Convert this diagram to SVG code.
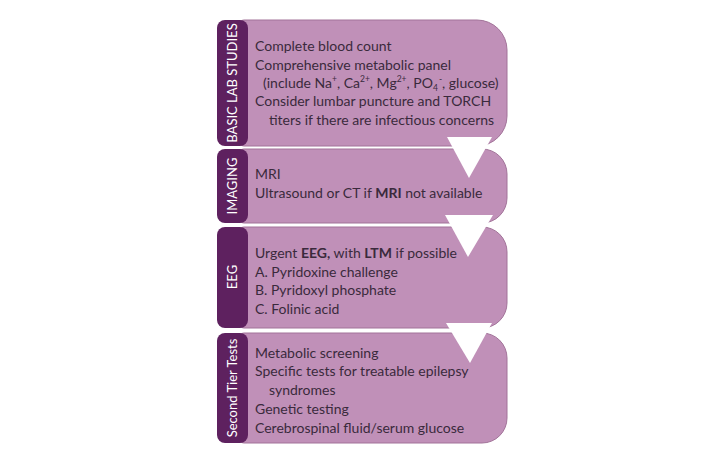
<svg xmlns="http://www.w3.org/2000/svg" width="724" height="466" viewBox="0 0 724 466">
<style>
.body{fill:#c090b8;stroke:#a27399;stroke-width:1}
.tab{fill:#5e215f}
.lbl{fill:#ffffff;font-family:Lato,"Liberation Sans",sans-serif;font-size:13px;text-anchor:middle}
.t{fill:#3a2a3c;font-family:Lato,"Liberation Sans",sans-serif;font-size:14px}
.b{font-weight:bold}
.sup{font-size:8.5px}
.arr{fill:#ffffff}
</style>
<rect width="724" height="466" fill="#ffffff"/>
<g id="basic-lab">
<path class="body" d="M244,20 H477 A30,30 0 0 1 507,50 V116 A30,30 0 0 1 477,146 H244 A6,6 0 0 1 238,140 V26 A6,6 0 0 1 244,20 Z"/>
<rect class="tab" x="217" y="20" width="31" height="126" rx="8"/>
<text class="lbl" transform="translate(237,83) rotate(-90)">BASIC LAB STUDIES</text>
<text class="t" x="255" y="51">Complete blood count</text>
<text class="t" x="255" y="70">Comprehensive metabolic panel</text>
<text class="t" x="263" y="88">(include Na<tspan class="sup" dy="-6">+</tspan><tspan dy="6">, Ca</tspan><tspan class="sup" dy="-6">2+</tspan><tspan dy="6">, Mg</tspan><tspan class="sup" dy="-6">2+</tspan><tspan dy="6">, PO</tspan><tspan class="sup" dy="3">4</tspan><tspan class="sup" dx="1" dy="-9">-</tspan><tspan dy="6">, glucose)</tspan></text>
<text class="t" x="255" y="106">Consider lumbar puncture and TORCH</text>
<text class="t" x="269" y="125">titers if there are infectious concerns</text>
</g>
<g id="imaging">
<path class="body" d="M244,149 H482 A25,25 0 0 1 507,174 V198 A25,25 0 0 1 482,223 H244 A6,6 0 0 1 238,217 V155 A6,6 0 0 1 244,149 Z"/>
<rect class="tab" x="217" y="149" width="31" height="74" rx="8"/>
<text class="lbl" transform="translate(237,186) rotate(-90)">IMAGING</text>
<text class="t" x="255" y="179">MRI</text>
<text class="t" x="255" y="198">Ultrasound or CT if <tspan class="b">MRI</tspan> not available</text>
</g>
<g id="eeg">
<path class="body" d="M244,227 H482 A25,25 0 0 1 507,252 V303 A25,25 0 0 1 482,328 H244 A6,6 0 0 1 238,322 V233 A6,6 0 0 1 244,227 Z"/>
<rect class="tab" x="217" y="227" width="31" height="101" rx="8"/>
<text class="lbl" transform="translate(237,277) rotate(-90)">EEG</text>
<text class="t" x="255" y="258">Urgent <tspan class="b">EEG,</tspan> with <tspan class="b">LTM</tspan> if possible</text>
<text class="t" x="255" y="277">A. Pyridoxine challenge</text>
<text class="t" x="255" y="295">B. Pyridoxyl phosphate</text>
<text class="t" x="255" y="314">C. Folinic acid</text>
</g>
<g id="second-tier">
<path class="body" d="M244,333 H482 A25,25 0 0 1 507,358 V418 A25,25 0 0 1 482,443 H244 A6,6 0 0 1 238,437 V339 A6,6 0 0 1 244,333 Z"/>
<rect class="tab" x="217" y="333" width="31" height="110" rx="8"/>
<text class="lbl" transform="translate(237,388) rotate(-90)">Second Tier Tests</text>
<text class="t" x="255" y="358">Metabolic screening</text>
<text class="t" x="255" y="376">Specific tests for treatable epilepsy</text>
<text class="t" x="269" y="395">syndromes</text>
<text class="t" x="255" y="414">Genetic testing</text>
<text class="t" x="255" y="433">Cerebrospinal fluid/serum glucose</text>
</g>
<g id="connectors">
<polygon class="arr" points="447,137 492,137 469,178"/>
<polygon class="arr" points="445,215 493,215 468,257"/>
<polygon class="arr" points="446,323 492,323 470,363"/>
</g>
</svg>
